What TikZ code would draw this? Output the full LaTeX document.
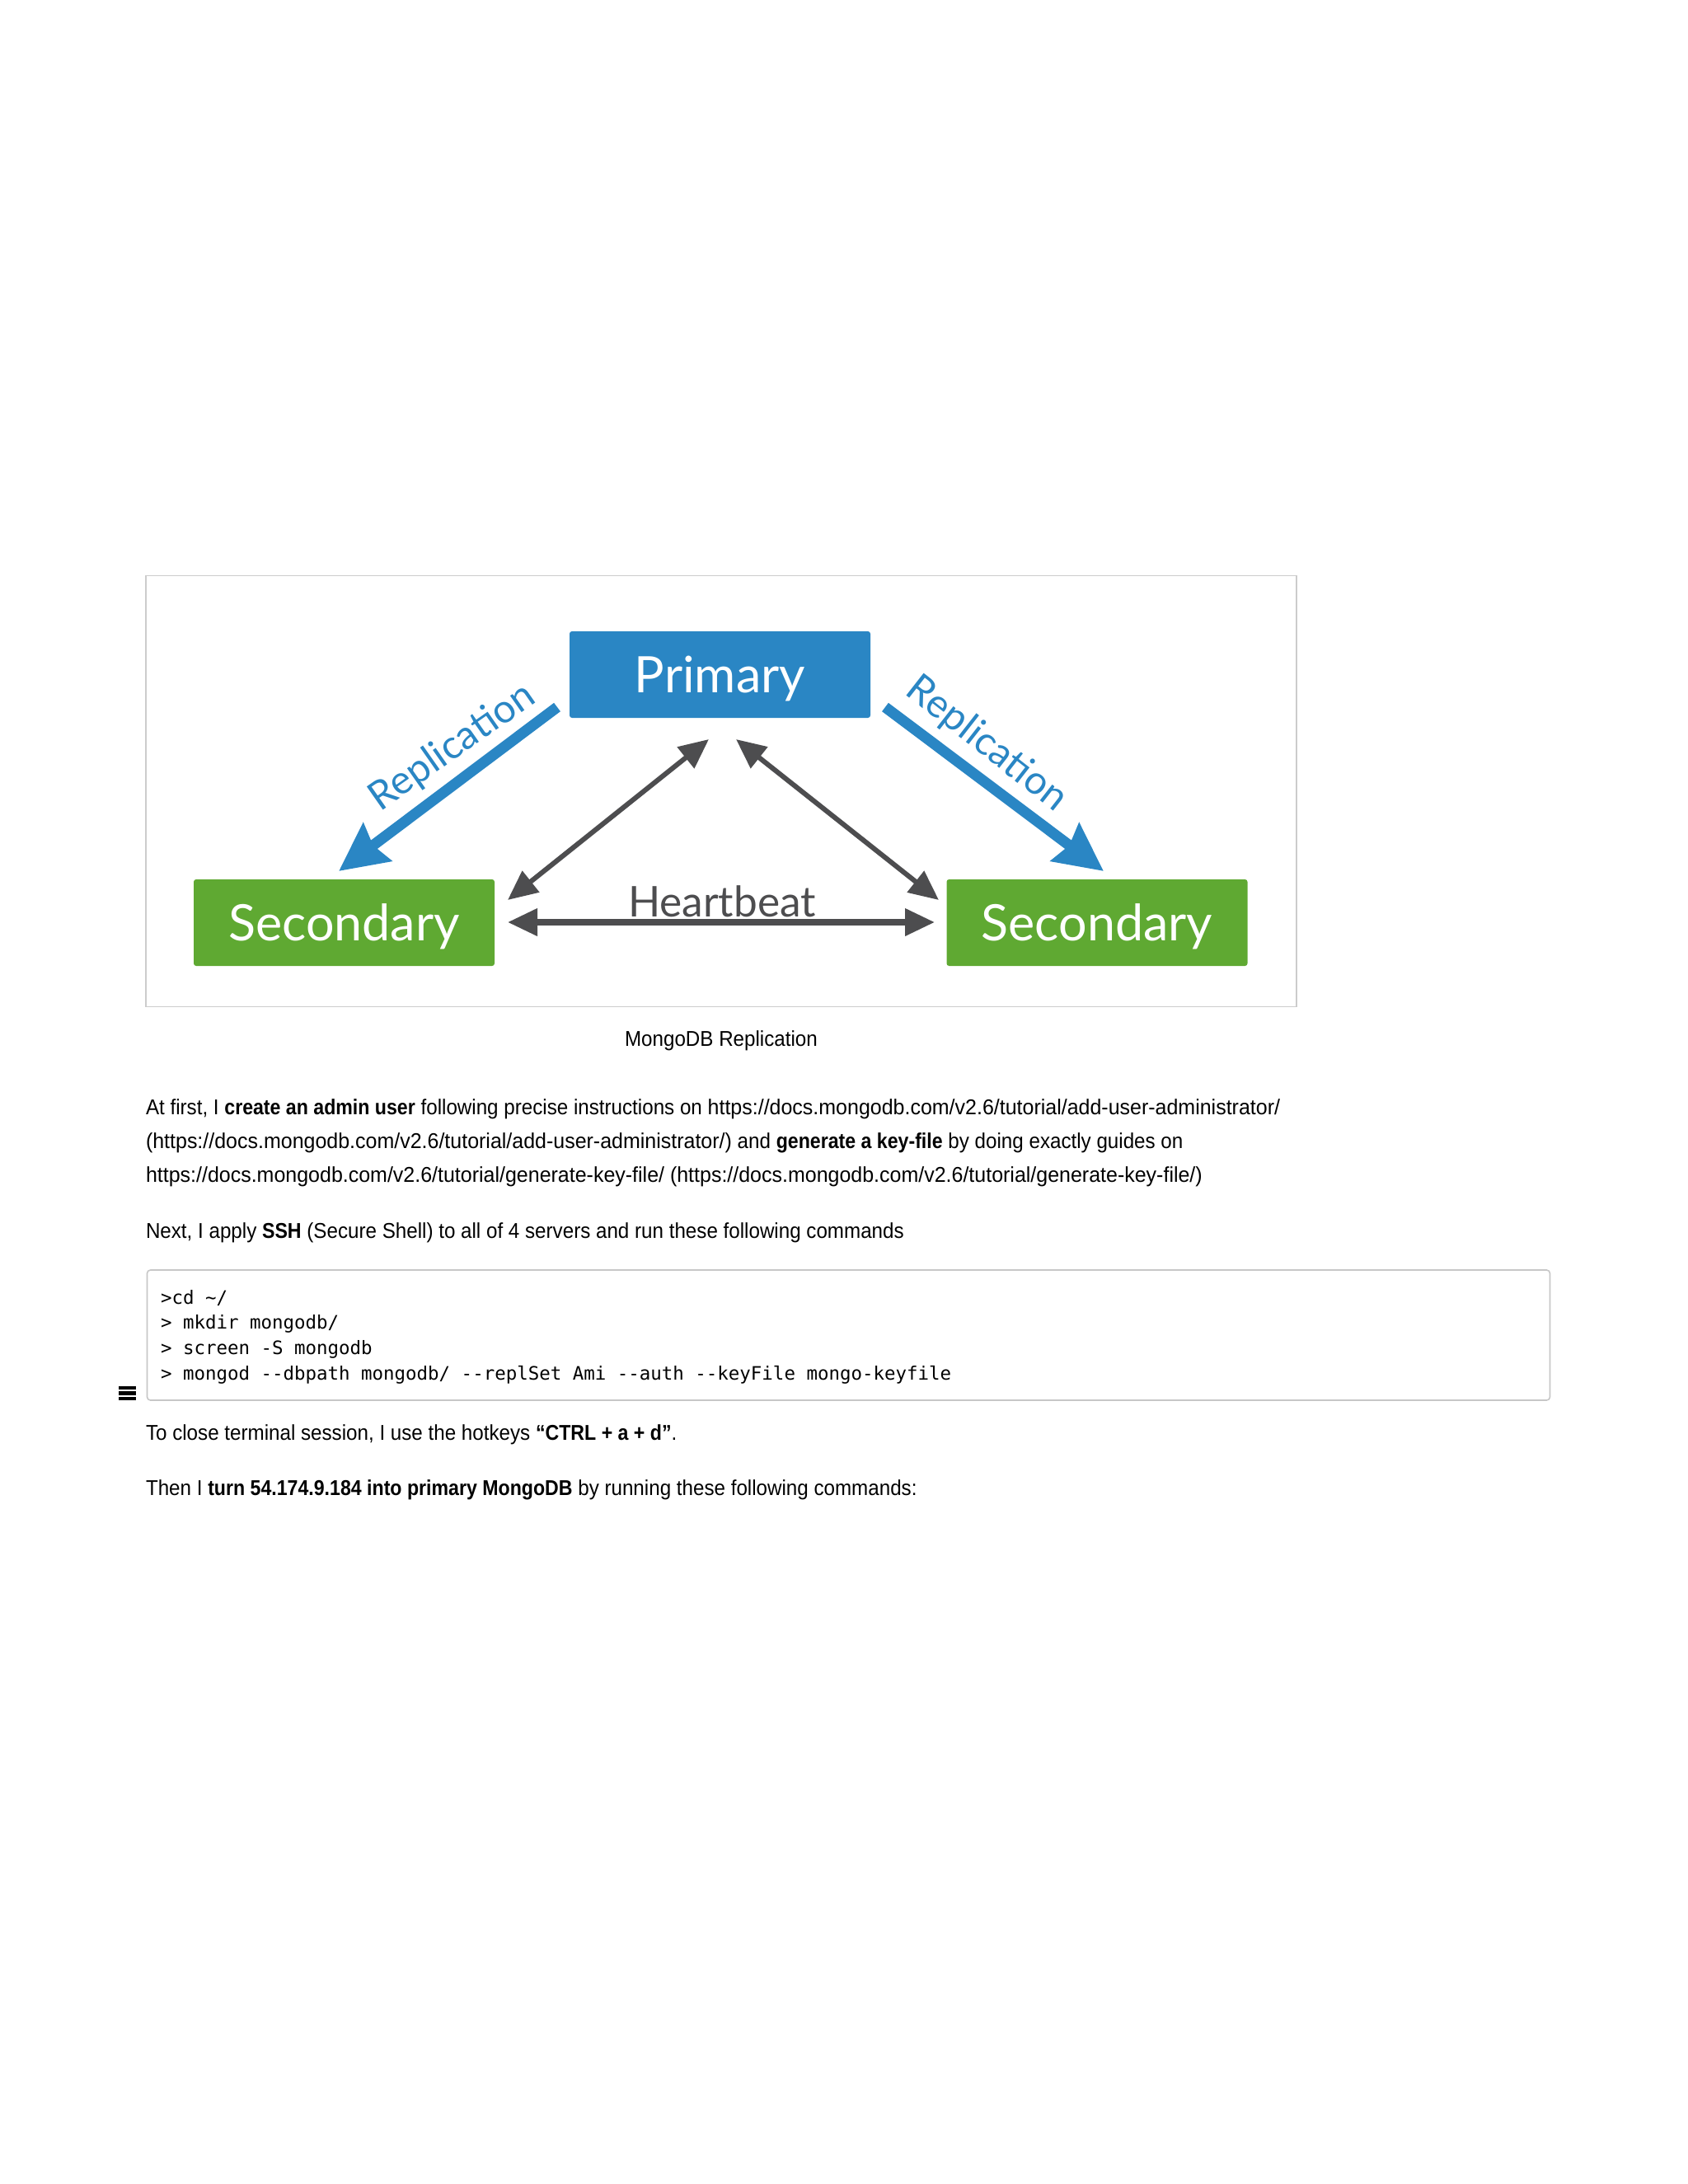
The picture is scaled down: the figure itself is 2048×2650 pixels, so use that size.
\documentclass[tikz,border=0pt]{standalone}
\usepackage{fontspec}
\setmainfont[FakeStretch=0.93, BoldFeatures={FakeStretch=0.89}]{Liberation Sans}
\setmonofont{DejaVu Sans Mono}
\newfontfamily\boxfont{Lato}
\newfontfamily\weblinkfont[FakeStretch=0.961]{Liberation Sans}
\newcommand{\weblink}[1]{{\weblinkfont #1}}
\usetikzlibrary{arrows.meta}
\definecolor{primaryblue}{HTML}{2A86C4}
\definecolor{secondarygreen}{HTML}{5FA932}
\definecolor{beatgray}{HTML}{4D4D4F}
\tikzset{x=0.5pt, y=-0.5pt,
every node/.style={ % Sets the properties for each text
inner sep=0pt, outer sep=0pt},
role/.style={ % Sets the properties for each server box
rounded corners=1.5pt, text=white, align=center,
text height=22pt, text depth=0pt,
font=\boxfont\fontsize{30.5}{30.5}\selectfont},
primaryrole/.style={role, fill=primaryblue, minimum width=182.5pt, minimum height=52.5pt},
secondaryrole/.style={role, fill=secondarygreen, minimum width=182.5pt, minimum height=52.5pt},
replicate/.style={ % Thick blue arrows
draw=primaryblue, line width=6.5pt,
-{Stealth[length=29pt, width=28pt, inset=3pt]}},
replabel/.style={text=primaryblue, font=\boxfont\fontsize{24}{24}\selectfont},
beat/.style={ % Gray arrows in both directions
draw=beatgray, line width=3pt,
{Triangle[length=18pt, width=16pt]}-{Triangle[length=18pt, width=16pt]}},
body/.style={anchor=base west, font=\fontsize{13}{13}\selectfont},
code/.style={anchor=base west, font=\ttfamily\fontsize{11.22}{11.22}\selectfont},
menubar/.style={fill=black, minimum width=10.5pt, minimum height=2.4pt}}
\begin{document}
\begin{tikzpicture}
\useasboundingbox (0,0) rectangle (2048,2650);
% picture frame
\node[draw=black!20, line width=0.8pt, minimum width=698pt, minimum height=261.5pt] (frame) at (875,960) {};
\node[primaryrole] (primary) at (873.5,818.5) {Primary};
\node[secondaryrole] (secleft) at (417.5,1119.5) {Secondary};
\node[secondaryrole] (secright) at (1331,1119.5) {Secondary};
% free ends of the arrows
\coordinate (repLa) at (676,858);
\coordinate (repLb) at (411,1057);
\coordinate (repRa) at (1074,858);
\coordinate (repRb) at (1339,1057);
\coordinate (beatTa) at (860,897);
\coordinate (beatLa) at (616,1092);
\coordinate (beatTb) at (893,897);
\coordinate (beatRa) at (1139,1092);
\coordinate (beatHa) at (616,1119);
\coordinate (beatHb) at (1134,1119);
\draw[replicate] (repLa) -- (repLb);
\draw[replicate] (repRa) -- (repRb);
\draw[beat] (beatLa) -- (beatTa);
\draw[beat] (beatTb) -- (beatRa);
\draw[beat, line width=3.6pt] (beatHa) -- (beatHb);
\node[replabel, rotate=35] (replabL) at (549,907) {Replication};
\node[replabel, rotate=-38] (replabR) at (1197,903) {Replication};
\node[anchor=base, text=beatgray, font=\boxfont\fontsize{25.7}{25.7}\selectfont] (heartbeat) at (876,1112) {Heartbeat};
% text of the page
\node[anchor=base, font=\fontsize{13}{13}\selectfont] (caption) at (875,1269) {MongoDB Replication};
\node[body] (lineA) at (177,1352) {At first, I \textbf{create an admin user} following precise instructions on \weblink{https://docs.mongodb.com/v2.6/tutorial/add-user-administrator/}};
\node[body] (lineB) at (177,1393) {\weblink{(https://docs.mongodb.com/v2.6/tutorial/add-user-administrator/)} and \textbf{generate a key-file} by doing exactly guides on};
\node[body] (lineC) at (177,1434) {\weblink{https://docs.mongodb.com/v2.6/tutorial/generate-key-file/ (https://docs.mongodb.com/v2.6/tutorial/generate-key-file/)}};
\node[body] (lineD) at (177,1502) {Next, I apply \textbf{SSH} (Secure Shell) to all of 4 servers and run these following commands};
\node[draw=black!22, line width=0.8pt, rounded corners=2pt, minimum width=851pt, minimum height=79pt] (codebox) at (1029.5,1620) {};
\node[code] (codeA) at (195,1582) {>cd \textasciitilde/};
\node[code] (codeB) at (195,1612) {> mkdir mongodb/};
\node[code] (codeC) at (195,1643) {> screen -S mongodb};
\node[code] (codeD) at (195,1674) {> mongod --dbpath mongodb/ --replSet Ami --auth --keyFile mongo-keyfile};
\node[menubar] (menuA) at (154.5,1684) {};
\node[menubar] (menuB) at (154.5,1690.5) {};
\node[menubar] (menuC) at (154.5,1697) {};
\node[body] (lineE) at (177,1747) {To close terminal session, I use the hotkeys \textbf{“CTRL + a + d”}.};
\node[body] (lineF) at (177,1814) {Then I \textbf{turn 54.174.9.184 into primary MongoDB} by running these following commands:};
\end{tikzpicture}
\end{document}
